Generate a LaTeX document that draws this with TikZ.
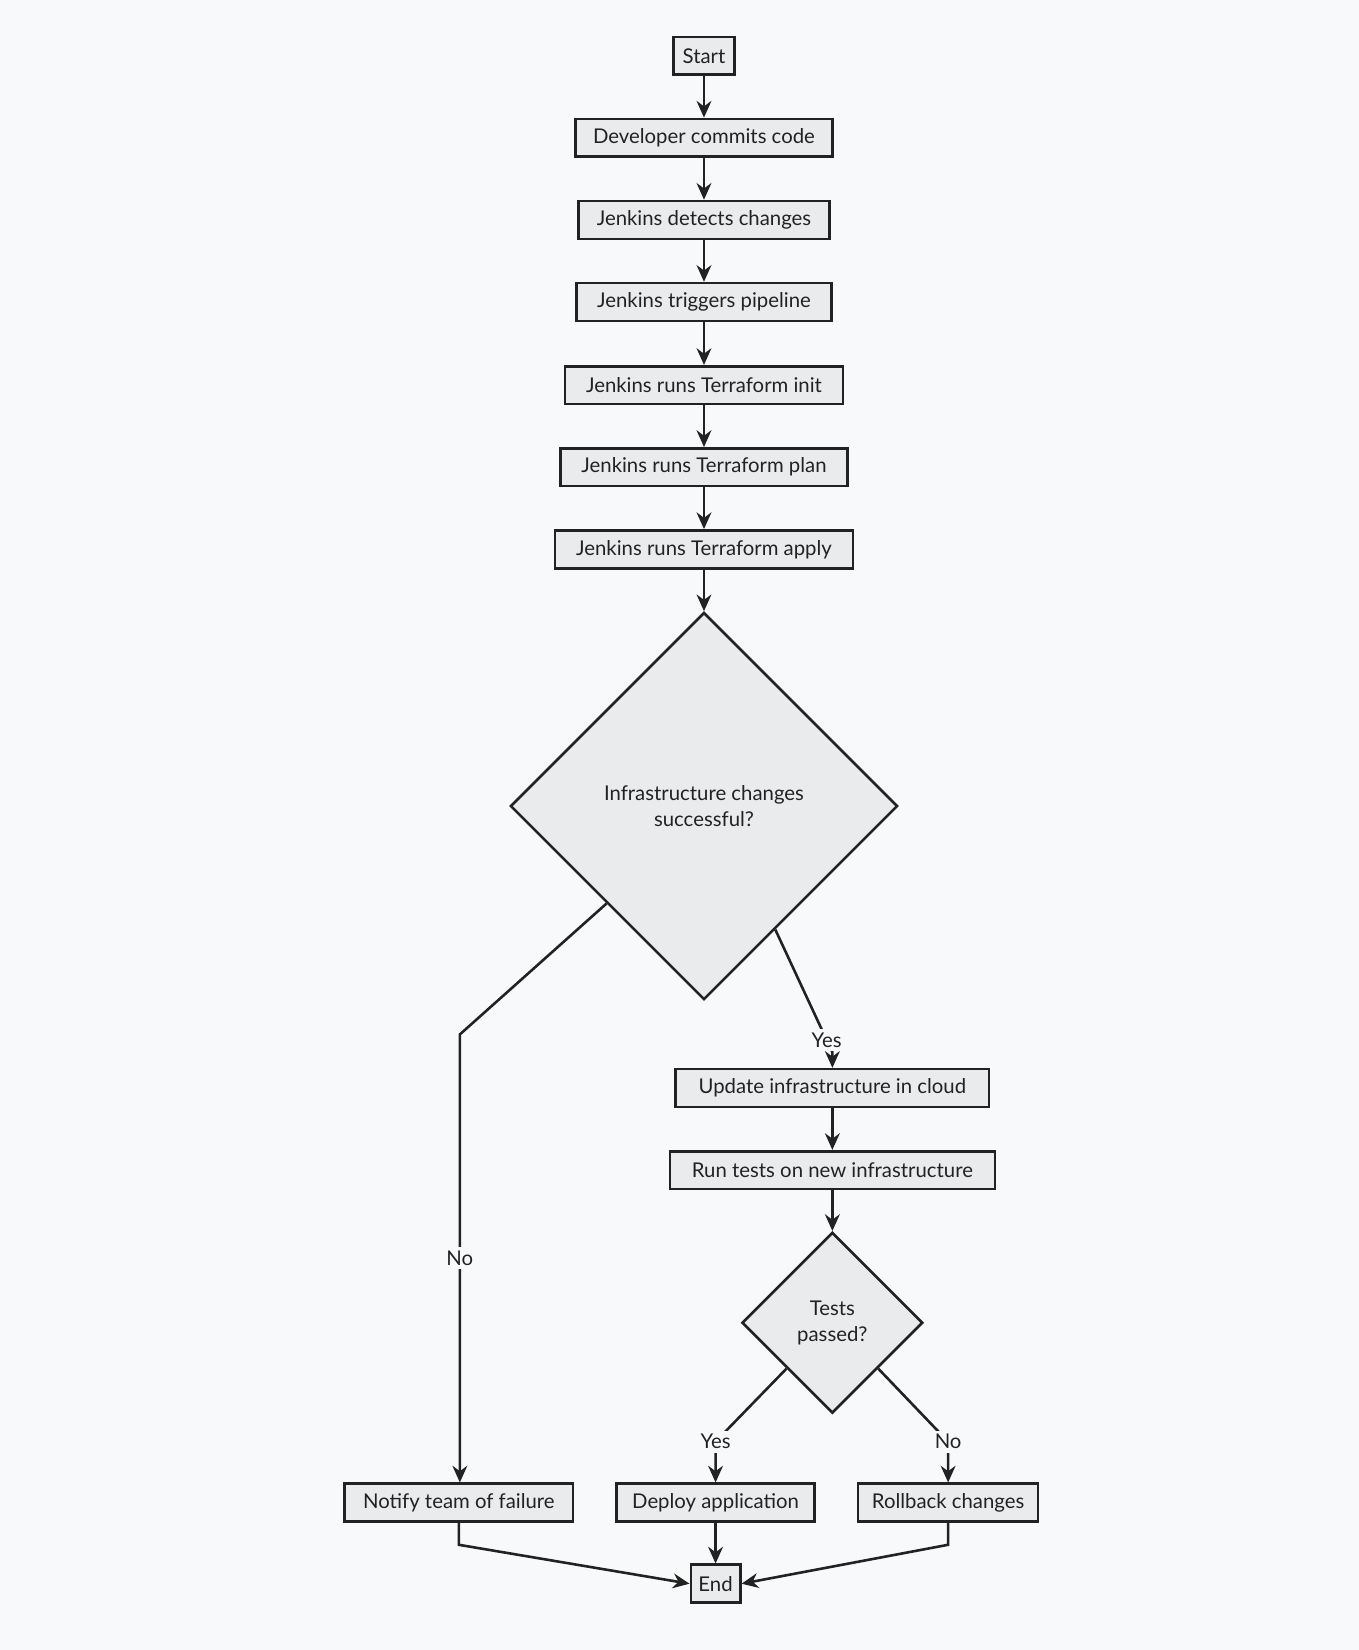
\documentclass[tikz,border=0pt]{standalone}
\usepackage{fontspec}
\setmainfont{Lato}
\usetikzlibrary{shapes.geometric,arrows.meta}
\definecolor{bg}{HTML}{F8F9FA}
\definecolor{fillc}{HTML}{E9EBED}
\definecolor{linec}{HTML}{222222}
\begin{document}
\begin{tikzpicture}[x=0.02cm,y=-0.02cm,
  box/.style={draw=linec,line width=1.4pt,fill=fillc,rectangle,minimum height=0.72cm,inner sep=0pt,font=\fontsize{11}{13}\selectfont,text=linec},
  dia/.style={draw=linec,line width=1.4pt,fill=fillc,diamond,inner sep=0pt,align=center,font=\fontsize{11}{14}\selectfont,text=linec},
  arr/.style={draw=linec,line width=1.4pt,-{Stealth[length=9pt,width=8pt]}},
  lab/.style={fill=bg,inner sep=2pt,font=\fontsize{11}{13}\selectfont,text=linec}]
\fill[bg] (0,0) rectangle (1291,1568);
\useasboundingbox (0,0) rectangle (1291,1568);
\node[box,minimum width=1.16cm] (start) at (669,53) {Start};
\node[box,minimum width=4.88cm] (dev) at (669,131) {Developer commits code};
\node[box,minimum width=4.78cm] (det) at (669,209) {Jenkins detects changes};
\node[box,minimum width=4.84cm] (trig) at (669,287) {Jenkins triggers pipeline};
\node[box,minimum width=5.28cm] (init) at (669,366) {Jenkins runs Terraform init};
\node[box,minimum width=5.46cm] (plan) at (669,444) {Jenkins runs Terraform plan};
\node[box,minimum width=5.66cm] (apply) at (669,522) {Jenkins runs Terraform apply};
\node[dia,minimum width=7.36cm,minimum height=7.36cm] (d1) at (669,766) {Infrastructure changes\\successful?};
\node[box,minimum width=5.96cm] (upd) at (791,1034) {Update infrastructure in cloud};
\node[box,minimum width=6.18cm] (run) at (791,1112) {Run tests on new infrastructure};
\node[dia,minimum width=3.44cm,minimum height=3.44cm] (d2) at (791,1257) {Tests\\passed?};
\node[box,minimum width=4.34cm] (notify) at (436,1428) {Notify team of failure};
\node[box,minimum width=3.76cm] (deploy) at (680,1428) {Deploy application};
\node[box,minimum width=3.42cm] (roll) at (901,1428) {Rollback changes};
\node[box,minimum width=0.94cm] (end) at (680,1505) {End};
\draw[arr] (start) -- (dev);
\draw[arr] (dev) -- (det);
\draw[arr] (det) -- (trig);
\draw[arr] (trig) -- (init);
\draw[arr] (init) -- (plan);
\draw[arr] (plan) -- (apply);
\draw[arr] (apply) -- (d1);
\coordinate (nb) at (437,983);
\draw[arr] (d1.south west) -- (nb) -- node[lab]{No} (notify.north -| nb);
\coordinate (yb) at (791,1000);
\draw[arr] (d1.-60) -- (yb) node[lab,pos=0.9]{Yes} -- (upd);
\draw[arr] (upd) -- (run);
\draw[arr] (run) -- (d2);
\coordinate (y2) at (680,1370);
\coordinate (n2) at (901,1370);
\draw[arr] (d2.south west) -- (y2) node[lab,pos=1]{Yes} -- (deploy);
\draw[arr] (d2.south east) -- (n2) node[lab,pos=1]{No} -- (roll);
\draw[arr] (deploy) -- (end);
\coordinate (nl) at (436,1468);
\coordinate (rl) at (901,1468);
\draw[arr] (notify.south) -- (nl) -- (end.west);
\draw[arr] (roll.south) -- (rl) -- (end.east);
\end{tikzpicture}
\end{document}
